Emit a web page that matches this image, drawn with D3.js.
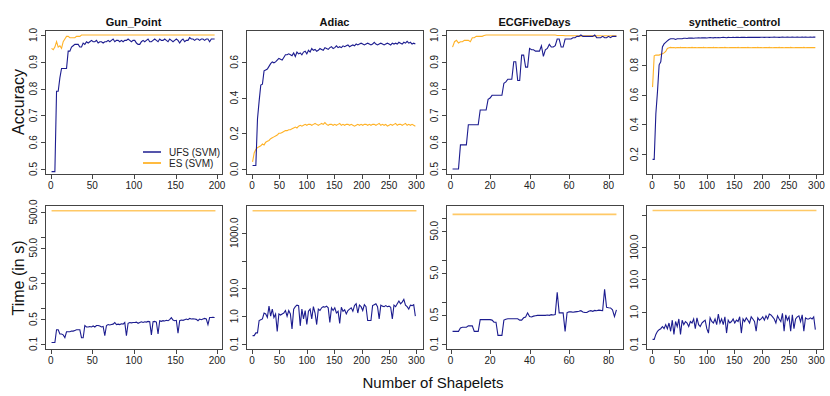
<!DOCTYPE html>
<html>
<head>
<meta charset="utf-8">
<script src="https://cdn.jsdelivr.net/npm/d3@7"></script>
<style>
  body { margin: 0; background: #fff; }
  svg { display: block; font-family: "Liberation Sans", Arial, sans-serif; }
</style>
</head>
<body>
<div class="charts-container"></div>
<script>
"use strict";

// Panel titles and number of shapelets per dataset
const datasets = ["Gun_Point", "Adiac", "ECGFiveDays", "synthetic_control"];

// Gun_Point
const gunX = d3.range(1, 198, 2);
const gunUfsAcc = [0.49,0.49,0.49,0.79,0.79,0.84,0.875,0.875,0.875,0.875,
  0.94,0.94,0.955,0.96,0.965,0.965,0.965,0.955,0.955,0.97,
  0.965,0.975,0.97,0.975,0.98,0.975,0.975,0.98,0.97,0.975,
  0.975,0.97,0.975,0.975,0.98,0.975,0.98,0.985,0.975,0.98,
  0.98,0.975,0.98,0.975,0.98,0.98,0.985,0.98,0.975,0.98,
  0.98,0.97,0.965,0.965,0.975,0.98,0.975,0.98,0.985,0.975,
  0.975,0.98,0.985,0.98,0.975,0.985,0.98,0.98,0.985,0.98,
  0.975,0.985,0.98,0.975,0.98,0.985,0.98,0.97,0.98,0.985,
  0.975,0.98,0.98,0.99,0.985,0.985,0.98,0.985,0.985,0.98,
  0.985,0.985,0.98,0.985,0.985,0.975,0.985,0.985,0.985];
const gunEsX = [1,3,5,7,9,11,13,15,17,19,21,23,25,27,29,31,33,35,37,197];
const gunEsAcc = [0.95,0.945,0.955,0.975,0.955,0.96,0.95,0.975,0.985,0.995,
  0.995,0.99,0.99,0.99,0.99,0.995,0.995,0.995,1.0,1.0];
const gunUfsTime = [0.11,0.11,0.11,0.25,0.25,0.19,0.19,0.18,0.15,0.22,
  0.22,0.22,0.23,0.23,0.24,0.25,0.25,0.25,0.15,0.15,
  0.33,0.3,0.3,0.31,0.3,0.32,0.3,0.33,0.33,0.32,
  0.3,0.31,0.17,0.33,0.35,0.34,0.35,0.36,0.4,0.35,
  0.36,0.35,0.37,0.36,0.4,0.17,0.38,0.4,0.39,0.4,
  0.4,0.41,0.38,0.4,0.42,0.4,0.42,0.41,0.43,0.42,
  0.18,0.42,0.43,0.41,0.19,0.45,0.43,0.45,0.44,0.46,
  0.45,0.48,0.55,0.47,0.45,0.46,0.2,0.45,0.47,0.46,
  0.48,0.5,0.48,0.52,0.5,0.51,0.5,0.49,0.45,0.5,
  0.48,0.5,0.52,0.5,0.35,0.55,0.55,0.56,0.55];
const gunEsTime = [540, 540];

// Adiac
const adiacX = d3.range(1, 301, 3);
const adiacUfsAcc = [0.02,0.02,0.02,0.28,0.38,0.47,0.475,0.55,0.555,0.56,
  0.575,0.59,0.6,0.595,0.6,0.61,0.62,0.615,0.61,0.625,
  0.64,0.64,0.645,0.64,0.635,0.65,0.63,0.655,0.645,0.65,
  0.64,0.655,0.66,0.645,0.665,0.655,0.675,0.665,0.67,0.66,
  0.665,0.675,0.67,0.665,0.68,0.675,0.67,0.68,0.685,0.675,
  0.68,0.69,0.68,0.685,0.68,0.69,0.685,0.69,0.695,0.685,
  0.69,0.695,0.69,0.7,0.695,0.7,0.705,0.7,0.695,0.7,
  0.705,0.7,0.695,0.7,0.71,0.7,0.695,0.7,0.705,0.7,
  0.695,0.7,0.705,0.7,0.695,0.705,0.7,0.705,0.7,0.71,
  0.705,0.7,0.71,0.705,0.715,0.705,0.71,0.7,0.705,0.7];
const adiacEsAcc = [0.04,0.09,0.11,0.12,0.125,0.13,0.14,0.135,0.15,0.155,
  0.16,0.17,0.175,0.18,0.185,0.19,0.2,0.2,0.205,0.21,
  0.215,0.215,0.22,0.22,0.225,0.23,0.235,0.23,0.24,0.245,
  0.24,0.245,0.25,0.245,0.25,0.25,0.245,0.25,0.255,0.25,
  0.245,0.25,0.255,0.25,0.26,0.25,0.245,0.25,0.25,0.245,
  0.25,0.245,0.25,0.255,0.245,0.25,0.245,0.25,0.25,0.245,
  0.25,0.245,0.24,0.245,0.25,0.245,0.25,0.245,0.25,0.25,
  0.245,0.25,0.245,0.25,0.25,0.245,0.25,0.255,0.245,0.25,
  0.245,0.25,0.24,0.245,0.25,0.245,0.25,0.255,0.245,0.25,
  0.25,0.245,0.25,0.255,0.245,0.25,0.245,0.25,0.245,0.24];
const adiacUfsTime = [0.2,0.2,0.25,0.25,0.7,0.75,0.8,1.3,1.2,0.9,
  2.3,1.0,1.8,0.9,1.2,0.28,1.2,1.1,1.2,1.3,
  1.6,1.0,1.6,1.2,0.35,1.8,2.2,2.5,2.4,0.45,
  1.8,0.8,1.6,0.5,1.5,1.8,0.8,2.2,1.3,0.5,
  1.8,1.6,2.0,2.2,2.1,2.3,2.0,0.6,2.0,1.6,
  2.0,1.3,1.5,0.55,2.1,1.5,1.7,1.2,1.6,1.8,
  2.0,1.5,2.4,2.8,1.3,2.5,2.2,1.6,2.6,2.2,
  0.7,0.7,0.7,2.4,2.6,2.8,2.2,0.8,2.5,2.3,
  2.2,2.4,2.2,2.3,2.1,0.8,2.5,2.2,2.8,3.5,
  2.8,3.2,4.0,2.5,2.2,1.8,2.5,2.4,2.6,1.0];
const adiacEsTime = [6200, 6200];

// ECGFiveDays
const ecgX = d3.range(1, 85);
const ecgUfsAcc = [0.5,0.5,0.5,0.5,0.59,0.59,0.59,0.59,0.665,0.665,
  0.665,0.665,0.665,0.665,0.72,0.72,0.72,0.72,0.76,0.765,
  0.775,0.775,0.775,0.775,0.775,0.775,0.82,0.825,0.835,0.835,
  0.835,0.9,0.9,0.83,0.83,0.925,0.925,0.88,0.88,0.95,
  0.945,0.945,0.94,0.94,0.94,0.96,0.92,0.945,0.95,0.965,
  0.955,0.955,0.96,0.985,0.985,0.955,0.955,0.985,0.985,0.985,
  0.985,0.99,0.99,0.995,0.995,1.0,0.995,0.995,0.995,0.995,
  0.995,0.995,1.0,0.99,0.99,0.99,0.995,0.99,0.99,0.995,
  0.99,0.995,0.995,0.995];
const ecgEsAcc = [0.955,0.975,0.98,0.97,0.975,0.975,0.98,0.98,0.98,0.975,
  0.99,0.99,0.995,0.995,0.995,0.995,0.998,1.0,1.0,1.0,
  1.0,1.0,1.0,1.0,1.0,1.0,1.0,1.0,1.0,1.0,
  1.0,1.0,1.0,1.0,1.0,1.0,1.0,1.0,1.0,1.0,
  1.0,1.0,1.0,1.0,1.0,1.0,1.0,1.0,1.0,1.0,
  1.0,1.0,1.0,0.998,0.998,0.998,0.998,0.997,0.997,0.997,
  0.997,0.997,0.997,0.997,0.996,0.996,0.997,0.997,0.997,0.997,
  0.997,0.997,0.996,0.997,0.997,0.997,0.996,0.997,0.997,0.996,
  0.997,0.997,0.997,0.997];
const ecgUfsTime = [0.2,0.2,0.2,0.2,0.24,0.25,0.25,0.25,0.27,0.27,
  0.27,0.2,0.2,0.2,0.38,0.38,0.38,0.38,0.38,0.38,
  0.37,0.33,0.33,0.16,0.16,0.16,0.37,0.39,0.4,0.4,
  0.4,0.4,0.4,0.4,0.37,0.37,0.42,0.44,0.55,0.45,
  0.44,0.46,0.47,0.48,0.48,0.48,0.48,0.48,0.49,0.48,
  0.5,0.49,0.5,1.7,0.55,0.55,0.55,0.2,0.56,0.58,
  0.58,0.57,0.58,0.59,0.6,0.62,0.58,0.56,0.56,0.6,
  0.62,0.6,0.63,0.62,0.64,0.63,0.62,2.0,0.75,0.73,
  0.72,0.65,0.45,0.65];
const ecgEsTime = [122, 122];

// synthetic_control
const synthX = d3.range(1, 301, 3);
const synthUfsAcc = [0.165,0.165,0.47,0.62,0.8,0.82,0.92,0.94,0.95,0.96,
  0.97,0.975,0.975,0.975,0.97,0.975,0.975,0.975,0.975,0.978,
  0.978,0.977,0.98,0.979,0.98,0.978,0.98,0.98,0.981,0.98,
  0.982,0.981,0.982,0.98,0.982,0.983,0.982,0.981,0.983,0.982,
  0.983,0.982,0.983,0.984,0.983,0.982,0.984,0.983,0.983,0.984,
  0.983,0.984,0.984,0.983,0.984,0.985,0.984,0.983,0.984,0.984,
  0.984,0.985,0.984,0.984,0.985,0.984,0.985,0.985,0.984,0.985,
  0.985,0.984,0.985,0.985,0.986,0.985,0.985,0.984,0.985,0.986,
  0.985,0.985,0.986,0.985,0.985,0.986,0.985,0.985,0.986,0.985,
  0.985,0.986,0.985,0.986,0.985,0.985,0.986,0.985,0.986,0.986];
const synthEsAcc = [0.65,0.86,0.865,0.865,0.865,0.87,0.875,0.88,0.89,0.91,
  0.915,0.917,0.915,0.916,0.914,0.916,0.915,0.917,0.915,0.916,
  0.915,0.914,0.916,0.915,0.917,0.915,0.916,0.914,0.915,0.916,
  0.915,0.917,0.915,0.914,0.916,0.915,0.915,0.917,0.915,0.916,
  0.914,0.915,0.916,0.915,0.917,0.915,0.914,0.916,0.915,0.915,
  0.916,0.915,0.917,0.914,0.915,0.916,0.915,0.915,0.917,0.915,
  0.914,0.916,0.915,0.915,0.917,0.915,0.916,0.914,0.915,0.916,
  0.915,0.917,0.915,0.914,0.916,0.915,0.915,0.917,0.915,0.916,
  0.914,0.915,0.916,0.915,0.917,0.915,0.914,0.916,0.915,0.915,
  0.916,0.915,0.917,0.914,0.915,0.916,0.915,0.915,0.916,0.915];
const synthUfsTime = [0.14,0.14,0.2,0.25,0.28,0.3,0.35,0.3,0.4,0.3,
  0.45,0.25,0.55,0.2,0.5,0.35,0.6,0.2,0.55,0.4,
  0.5,0.45,0.35,0.5,0.45,0.6,0.3,0.65,0.4,0.35,
  0.45,0.5,0.55,0.3,0.22,0.65,0.5,0.45,0.6,0.4,
  0.85,0.45,0.6,0.4,0.7,0.22,0.55,0.45,0.5,0.6,
  0.45,0.55,0.5,0.7,0.22,0.6,0.5,0.65,0.55,0.45,
  0.7,0.6,0.5,0.25,0.65,0.55,0.6,0.7,0.55,0.75,
  0.6,0.85,0.8,0.7,0.6,0.45,0.75,0.6,0.5,0.9,
  0.25,0.8,0.55,0.7,0.25,0.8,0.3,0.6,0.7,0.75,
  0.5,0.8,0.25,0.65,0.6,0.6,0.65,0.6,0.7,0.28];
const synthEsTime = [1350, 1350];

// Axis ticks
const xTicks = [d3.range(0, 201, 50), d3.range(0, 301, 50), d3.range(0, 81, 20), d3.range(0, 301, 50)];
const maxShapelets = [198, 300, 84, 300];
const accTicks = [
  [0.5, 0.6, 0.7, 0.8, 0.9, 1.0],
  [0.0, 0.2, 0.4, 0.6],
  [0.5, 0.6, 0.7, 0.8, 0.9, 1.0],
  [0.2, 0.4, 0.6, 0.8, 1.0]
];
const timeTicks = [
  [0.1, 0.5, 1, 5, 10, 50, 100, 500],
  [0.1, 1, 10, 100, 1000],
  [0.1, 0.5, 1, 5, 10, 50, 100],
  [0.1, 1, 10, 100, 1000]
];
const timeTickLabels = [
  ["0.1", "0.5", "", "5.0", "", "50.0", "", "500.0"],
  ["0.1", "1.0", "10.0", "", "1000.0"],
  ["0.1", "0.5", "", "5.0", "", "50.0", ""],
  ["0.1", "1.0", "10.0", "100.0", ""]
];
const accDomains = [[0.4813, 1.0187], [-0.028, 0.7787], [0.4813, 1.0187], [0.067, 1.0336]];
const timeDomains = [[0.0724, 783], [0.066, 10000], [0.0759, 204], [0.0708, 1995]];
const legendLabels = ["UFS (SVM)", "ES (SVM)"];

const ufsColor = "#1c1c8f";
const esColor = "#ffa500";

const panels = [
  { ufsX: gunX, ufsAcc: gunUfsAcc, esAccX: gunEsX, esAcc: gunEsAcc, ufsTime: gunUfsTime, esTime: gunEsTime },
  { ufsX: adiacX, ufsAcc: adiacUfsAcc, esAccX: adiacX, esAcc: adiacEsAcc, ufsTime: adiacUfsTime, esTime: adiacEsTime },
  { ufsX: ecgX, ufsAcc: ecgUfsAcc, esAccX: ecgX, esAcc: ecgEsAcc, ufsTime: ecgUfsTime, esTime: ecgEsTime },
  { ufsX: synthX, ufsAcc: synthUfsAcc, esAccX: synthX, esAcc: synthEsAcc, ufsTime: synthUfsTime, esTime: synthEsTime }
];

const width = 830;
const height = 396;
const panelLeft = [45, 246, 446, 646];
const panelWidth = 177;
const rows = [{ top: 30, bottom: 174 }, { top: 205, bottom: 349 }];

const svg = d3.select(".charts-container")
  .append("svg")
    .attr("width", width)
    .attr("height", height);

function drawPanel(i, row) {
  const p = panels[i];
  const left = panelLeft[i];
  const { top, bottom } = rows[row];
  const n = maxShapelets[i];
  const pad = 0.04 * (n - 1);

  const x = d3.scaleLinear()
    .domain([1 - pad, n + pad])
    .range([left, left + panelWidth]);

  const y = row === 0
    ? d3.scaleLinear().domain(accDomains[i]).range([bottom, top])
    : d3.scaleLog().domain(timeDomains[i]).range([bottom, top]);

  const g = svg.append("g");

  // lines
  const line = d3.line()
    .x(d => x(d[0]))
    .y(d => y(d[1]));

  let ufsPts, esPts;
  if (row === 0) {
    ufsPts = p.ufsX.map((v, k) => [v, p.ufsAcc[k]]);
    esPts = p.esAccX.map((v, k) => [v, p.esAcc[k]]);
  } else {
    ufsPts = p.ufsX.map((v, k) => [v, p.ufsTime[k]]);
    esPts = [[1, p.esTime[0]], [n, p.esTime[1]]];
  }

  g.append("path")
    .attr("d", line(esPts))
    .attr("fill", "none")
    .attr("stroke", esColor)
    .attr("stroke-opacity", row === 0 ? 0.85 : 0.6)
    .attr("stroke-width", row === 0 ? 1.1 : 1.6);

  g.append("path")
    .attr("d", line(ufsPts))
    .attr("fill", "none")
    .attr("stroke", ufsColor)
    .attr("stroke-width", 1.1);

  // box
  g.append("rect")
    .attr("x", left + 0.5)
    .attr("y", top + 0.5)
    .attr("width", panelWidth)
    .attr("height", bottom - top)
    .attr("fill", "none")
    .attr("stroke", "#444")
    .attr("stroke-width", 1);

  // x axis ticks
  const xt = xTicks[i];
  g.selectAll(".xtick")
    .data(xt)
    .join("line")
      .attr("x1", d => Math.round(x(d)) + 0.5)
      .attr("x2", d => Math.round(x(d)) + 0.5)
      .attr("y1", bottom)
      .attr("y2", bottom + 5)
      .attr("stroke", "#444");

  g.selectAll(".xlab")
    .data(xt)
    .join("text")
      .attr("x", d => x(d))
      .attr("y", bottom + 15)
      .attr("text-anchor", "middle")
      .attr("font-size", 10)
      .attr("fill", "#222")
      .text(d => d);

  // y axis ticks
  const yt = row === 0 ? accTicks[i] : timeTicks[i];
  const ylabels = row === 0 ? accTicks[i].map(d => d.toFixed(1)) : timeTickLabels[i];

  g.selectAll(".ytick")
    .data(yt)
    .join("line")
      .attr("x1", left - 4)
      .attr("x2", left)
      .attr("y1", d => Math.round(y(d)) + 0.5)
      .attr("y2", d => Math.round(y(d)) + 0.5)
      .attr("stroke", "#444");

  g.selectAll(".ylab")
    .data(yt)
    .join("text")
      .attr("transform", d => `translate(${left - 8}, ${y(d)}) rotate(-90)`)
      .attr("text-anchor", "middle")
      .attr("font-size", 10)
      .attr("fill", "#222")
      .text((d, k) => ylabels[k]);

  if (row === 0) {
    g.append("text")
      .attr("x", left + panelWidth / 2)
      .attr("y", top - 4)
      .attr("text-anchor", "middle")
      .attr("font-size", 11)
      .attr("font-weight", "bold")
      .attr("fill", "#111")
      .text(datasets[i]);
  }
}

for (let row = 0; row < 2; row++) {
  for (let i = 0; i < 4; i++) drawPanel(i, row);
}

// Legend in first panel
const legend = svg.append("g");
[ufsColor, esColor].forEach((c, k) => {
  const ly = 152 + k * 11;
  legend.append("line")
    .attr("x1", 143).attr("x2", 161)
    .attr("y1", ly).attr("y2", ly)
    .attr("stroke", c)
    .attr("stroke-width", 1.5);
  legend.append("text")
    .attr("x", 169)
    .attr("y", ly + 3.5)
    .attr("font-size", 10)
    .attr("fill", "#222")
    .text(legendLabels[k]);
});

// Outer axis titles
svg.append("text")
  .attr("transform", "translate(24, 102) rotate(-90)")
  .attr("text-anchor", "middle")
  .attr("font-size", 16)
  .attr("fill", "#111")
  .text("Accuracy");

svg.append("text")
  .attr("transform", "translate(24, 278) rotate(-90)")
  .attr("text-anchor", "middle")
  .attr("font-size", 16)
  .attr("fill", "#111")
  .text("Time (in s)");

svg.append("text")
  .attr("x", 433)
  .attr("y", 388)
  .attr("text-anchor", "middle")
  .attr("font-size", 15)
  .attr("fill", "#111")
  .text("Number of Shapelets");
</script>
</body>
</html>
